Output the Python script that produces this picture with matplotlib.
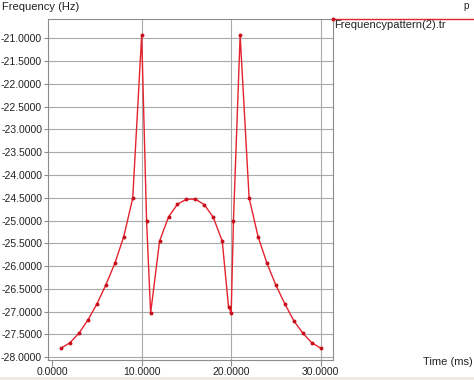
import matplotlib
matplotlib.use('Agg')
import matplotlib.pyplot as plt
from matplotlib.lines import Line2D
from matplotlib.patches import Rectangle

# values (time in ms, frequency in Hz)
time_ms = [1, 2, 3, 4, 5, 6, 7, 8, 9, 10, 10.55, 11,
           12, 13, 14, 15, 16, 17, 18, 19, 19.7, 20, 20.25, 21,
           22, 23, 24, 25, 26, 27, 28, 29, 30]
freq_hz = [-27.80, -27.68, -27.47, -27.18, -26.83, -26.41, -25.94, -25.35, -24.51, -20.93, -25.02, -27.03,
           -25.45, -24.92, -24.64, -24.53, -24.53, -24.65, -24.93, -25.45, -26.89, -27.03, -25.02, -20.93,
           -24.50, -25.35, -25.94, -26.42, -26.83, -27.20, -27.47, -27.68, -27.80]

x_ticks = [0, 10, 20, 30]
y_ticks = [-21.0 - 0.5 * i for i in range(15)]
series_name = 'Frequencypattern(2).tr'

plt.rcParams['font.family'] = ['Liberation Sans', 'DejaVu Sans']
plt.rcParams['axes.unicode_minus'] = False

red = '#e4232f'
grid_col = '#a9a9a9'

fig = plt.figure(figsize=(4.74, 3.80), dpi=100)
fig.patch.set_facecolor('white')
# light strip along the bottom of the screenshot
fig.patches.append(Rectangle((0, 0), 1, 0.008, transform=fig.transFigure,
                             facecolor='#efebe0', edgecolor='none', zorder=-5))

ax = fig.add_axes([0.1006, 0.0526, 0.6013, 0.8974])

ax.plot(time_ms, freq_hz, color=red, lw=1.0, marker='o', ms=1.8,
        mfc='#c8101c', mec='#c8101c', zorder=3)

ax.set_xlim(-0.5, 31.34)
ax.set_ylim(-28.06, -20.576)

ax.set_xticks(x_ticks)
ax.set_xticklabels(['%.4f' % v for v in x_ticks])
ax.set_yticks(y_ticks)
ax.set_yticklabels(['%.4f' % v for v in y_ticks])

for v in y_ticks:
    ax.axhline(v, color=grid_col, lw=0.8, zorder=1)
for v in x_ticks[1:]:
    ax.axvline(v, color=grid_col, lw=0.8, zorder=1)

for s in ax.spines.values():
    s.set_color('#8c8c8c')
    s.set_linewidth(0.8)

ax.tick_params(axis='both', direction='out', length=3, width=0.8, color='#8c8c8c',
               labelsize=7.5, pad=1, labelcolor='#222222')
ax.tick_params(axis='x', length=4, pad=1)

# axis captions placed like the original screenshot
fig.text(0.005, 0.982, 'Frequency (Hz)', fontsize=8, color='#222222', va='center', ha='left')
fig.text(0.998, 0.047, 'Time (ms)', fontsize=8, color='#222222', va='center', ha='right')
fig.text(0.978, 0.998, 'p', fontsize=7, color='#222222', va='top', ha='left')

# legend entry at top right
fig.lines.append(Line2D([0.703, 1.0], [0.95, 0.95], transform=fig.transFigure,
                        color=red, lw=1.0, marker='o', ms=1.8, markevery=[0],
                        mfc='#c8101c', mec='#c8101c'))
fig.text(0.705, 0.934, series_name, fontsize=8, color='#222222', va='center', ha='left')

fig.savefig('out.png', dpi=100)
